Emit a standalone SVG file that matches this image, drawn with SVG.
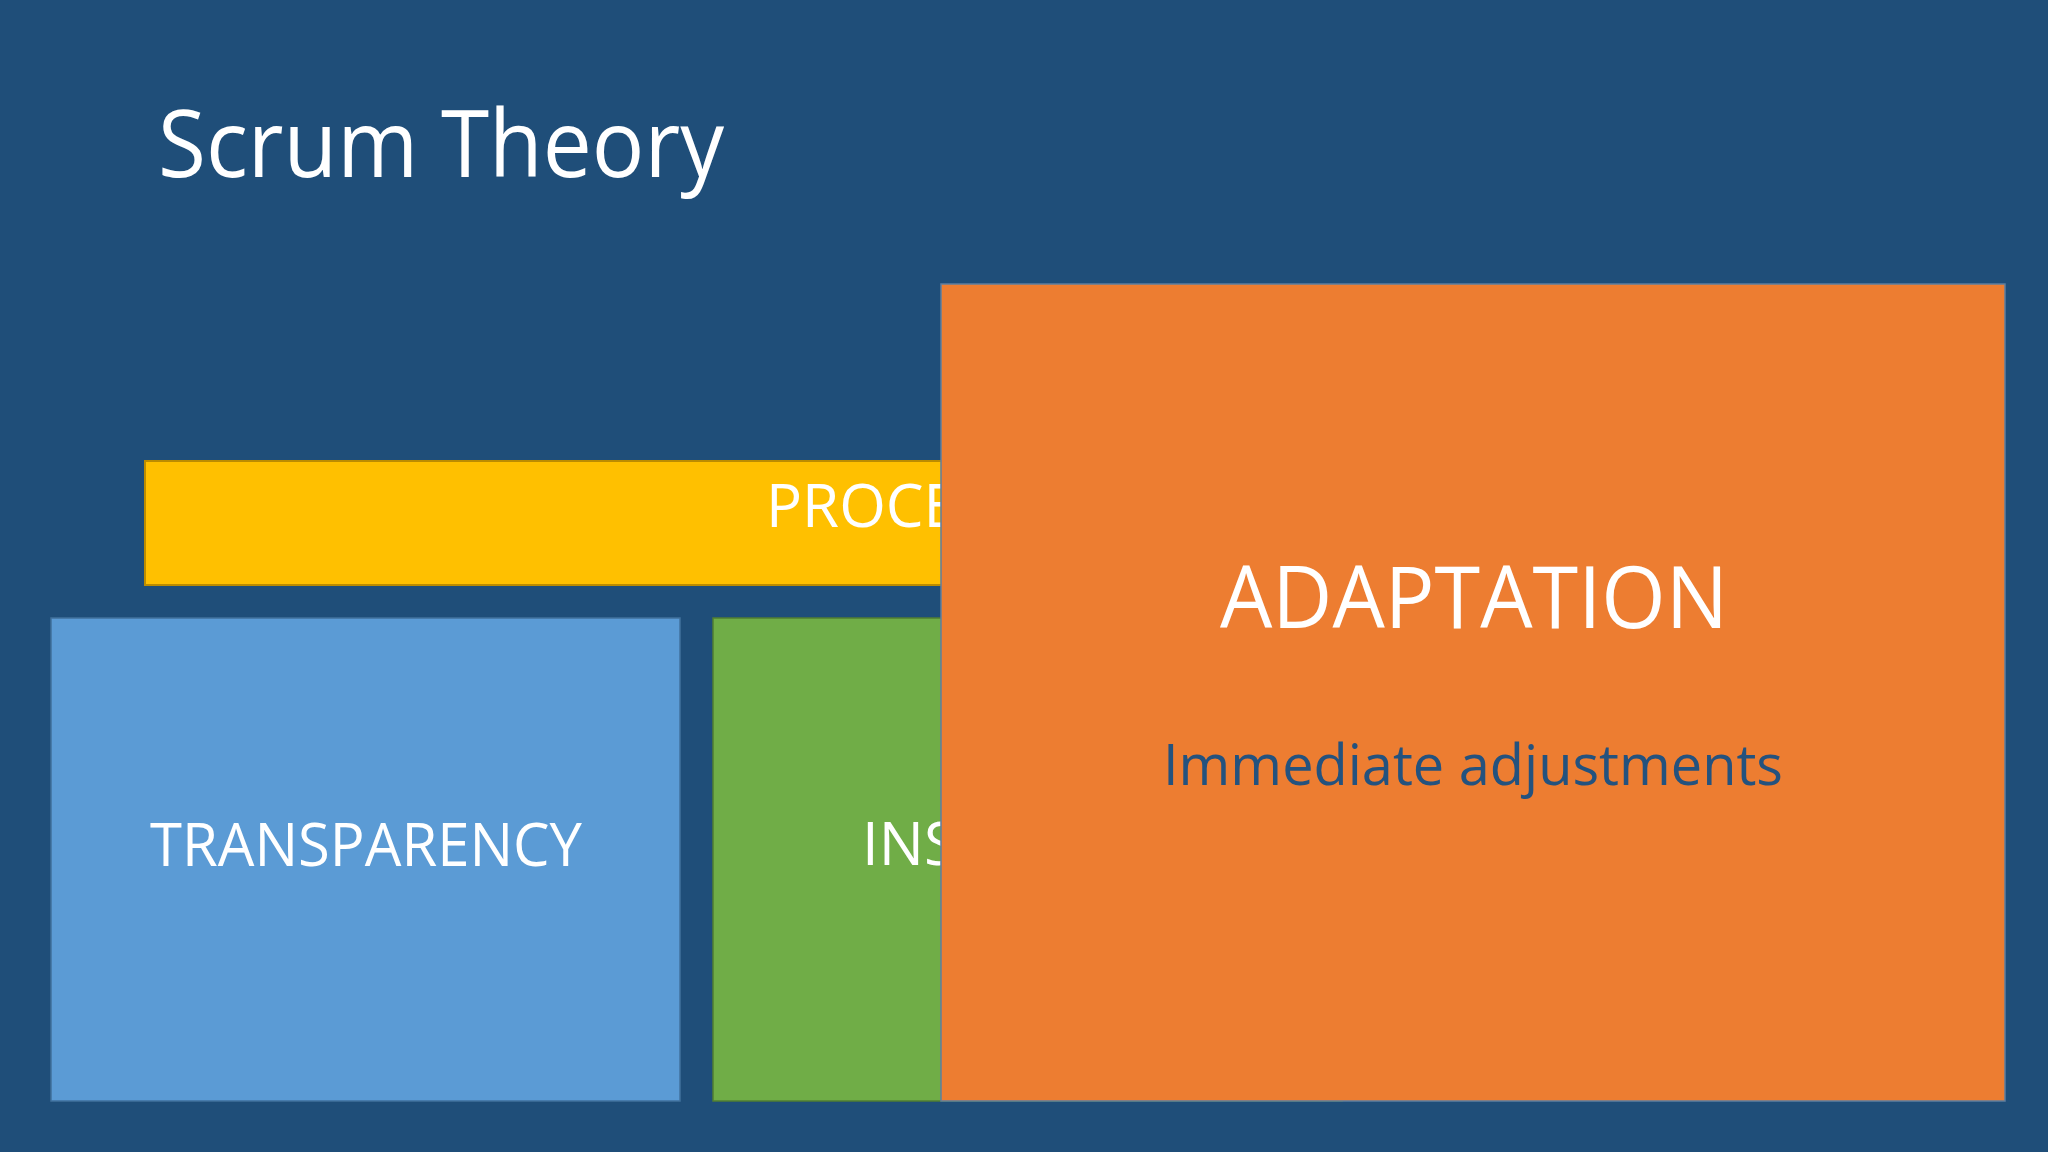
<svg xmlns="http://www.w3.org/2000/svg" width="2048" height="1152" viewBox="0 0 2048 1152">
  <style>
    text { font-family: "Open Sans", "Noto Sans", "Liberation Sans", sans-serif; }
    .white { fill: #FFFFFF; }
    .lbl { font-size: 60px; }
  </style>
  <rect id="background" x="0" y="0" width="2048" height="1152" fill="#1F4E79"/>
  <g id="title">
    <text class="white" x="158" y="177" font-size="94" textLength="566" lengthAdjust="spacingAndGlyphs">Scrum Theory</text>
  </g>
  <g id="connectors"/>
  <g id="process">
    <rect x="145" y="461" width="1700" height="124" fill="#FFC000" stroke="#BC8C00" stroke-width="2"/>
    <text class="white lbl" x="766" y="527">PROCE</text>
  </g>
  <g id="transparency">
    <rect x="51" y="618" width="629" height="483" fill="#5B9BD5" stroke="#41719C" stroke-width="1.5"/>
    <text class="white lbl" x="366" y="866" text-anchor="middle" textLength="432" lengthAdjust="spacingAndGlyphs">TRANSPARENCY</text>
  </g>
  <g id="inspection">
    <rect x="713" y="618" width="629" height="483" fill="#70AD47" stroke="#507E32" stroke-width="1.5"/>
    <text class="white lbl" x="862" y="865">INS</text>
  </g>
  <g id="adaptation">
    <rect x="941" y="284" width="1064" height="817" fill="#ED7D31" stroke="#5E7FA0" stroke-width="1.5"/>
    <text class="white" x="1474" y="628" font-size="86" text-anchor="middle" textLength="508" lengthAdjust="spacingAndGlyphs">ADAPTATION</text>
    <text x="1473" y="785" font-size="57" fill="#24527E" text-anchor="middle" textLength="620" lengthAdjust="spacingAndGlyphs">Immediate adjustments</text>
  </g>
</svg>
